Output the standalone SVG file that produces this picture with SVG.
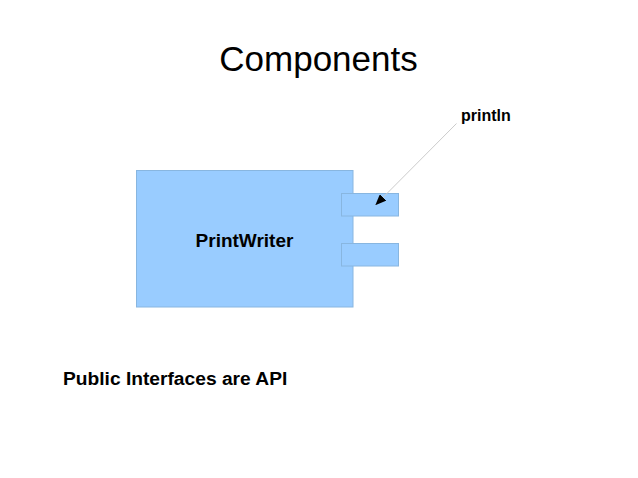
<svg xmlns="http://www.w3.org/2000/svg" width="638" height="478" viewBox="0 0 638 478">
<style>
.box{fill:#99ccff;stroke:#88b6e0;stroke-width:1}
.t{font-family:"Liberation Sans",Arial,sans-serif;fill:#000}
.b{font-weight:bold}
.conn{stroke:#cccccc;stroke-width:1;fill:none}
</style>
<defs>
<marker id="ah" markerWidth="11" markerHeight="9" refX="10" refY="4.5" orient="auto" markerUnits="userSpaceOnUse">
<path d="M0,0 L11,4.5 L0,9 Z" fill="#000"/>
</marker>
</defs>
<rect width="638" height="478" fill="#fff"/>
<text class="t" x="318.5" y="71" font-size="35" text-anchor="middle">Components</text>
<g id="printwriter">
<rect class="box" x="136.5" y="170.5" width="216.5" height="136.5"/>
<text class="t b" x="244.5" y="247" font-size="19" text-anchor="middle">PrintWriter</text>
</g>
<g id="port1">
<rect class="box" x="341.5" y="193.5" width="57" height="22.5"/>
</g>
<g id="port2">
<rect class="box" x="341.5" y="243.5" width="57" height="22.5"/>
</g>
<g id="println">
<text class="t b" x="461" y="121" font-size="16">println</text>
</g>
<g id="connectors">
<line class="conn" x1="456.5" y1="123.5" x2="376" y2="204.5" marker-end="url(#ah)"/>
</g>
<text class="t b" x="63" y="385" font-size="19.2">Public Interfaces are API</text>
</svg>
